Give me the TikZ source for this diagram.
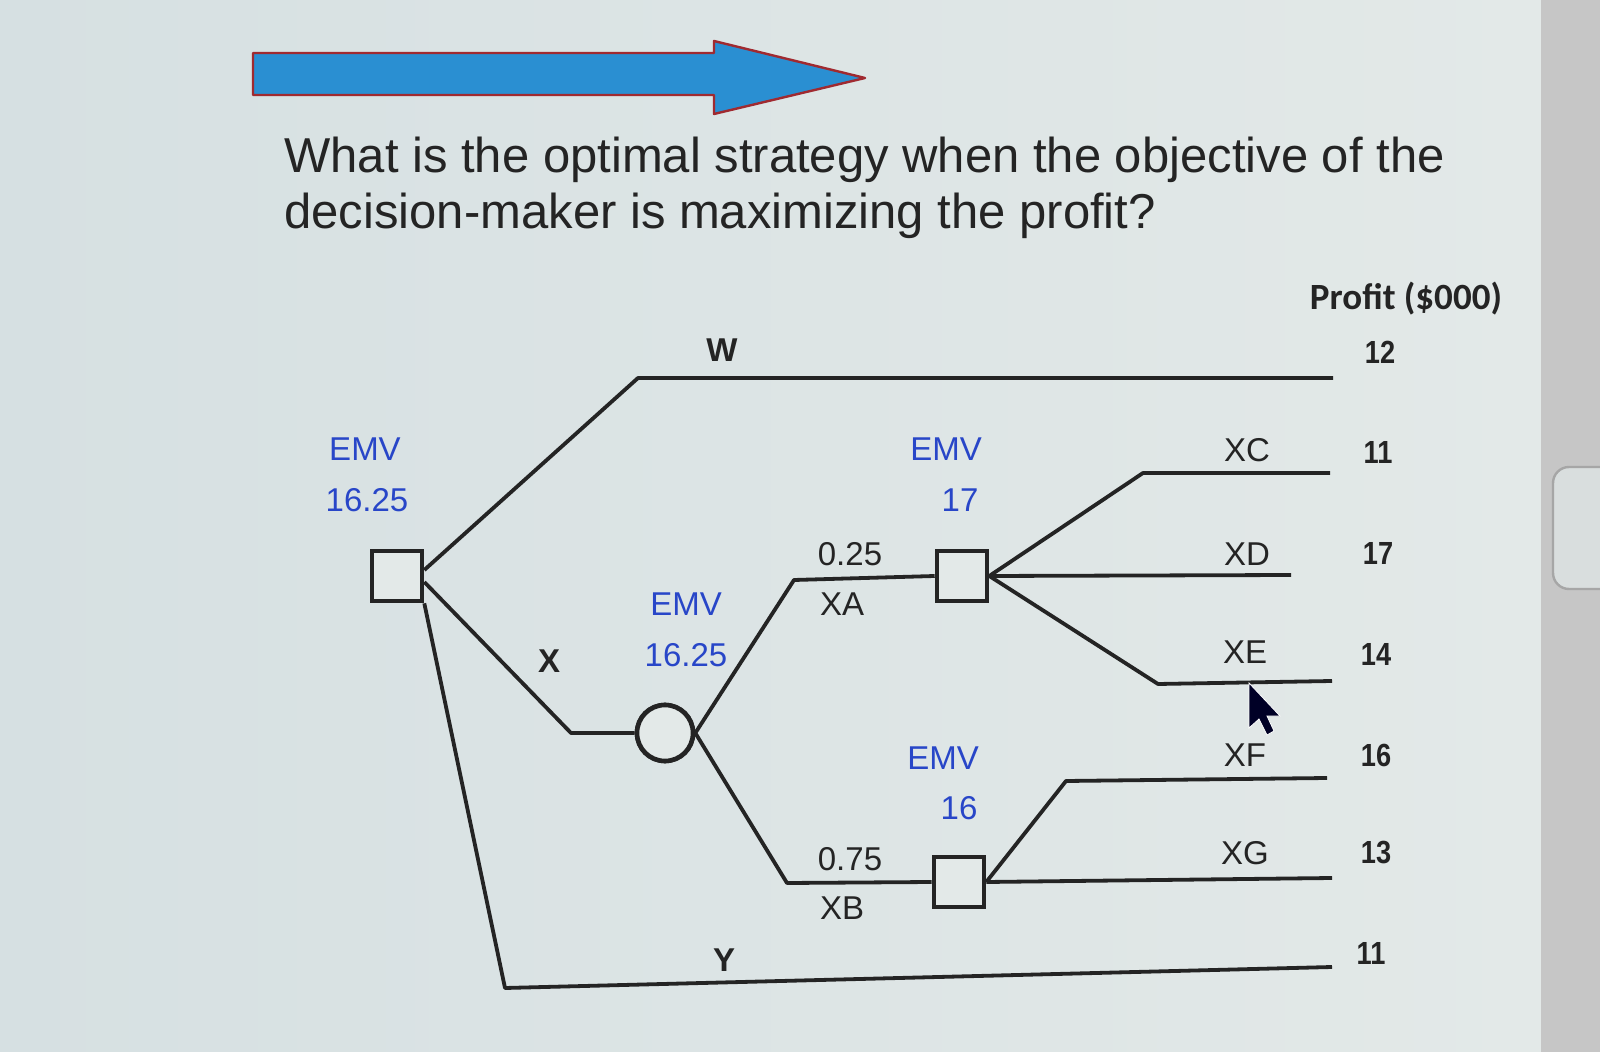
\documentclass[tikz,border=0pt]{standalone}
\usepackage{fontspec}
\setmainfont{Liberation Sans}
\newfontfamily\calfont{Carlito}
\definecolor{bg}{HTML}{E3E9E8}
\definecolor{bgl}{HTML}{D6E0E2}
\definecolor{lin}{HTML}{242424}
\definecolor{emvblue}{HTML}{2846C8}
\definecolor{arrblue}{HTML}{2A8FD2}
\definecolor{arrred}{HTML}{A02A30}
\tikzset{
  conn/.style={draw=lin, line width=1.9pt, line join=round},
  dsq/.style={draw=lin, line width=2.3pt, minimum size=25pt, inner sep=0pt, fill=bg},
  chn/.style={circle, draw=lin, line width=2.3pt, minimum size=28pt, inner sep=0pt, fill=bg},
  lbl/.style={font=\fontsize{16.5}{18}\selectfont, text=lin, inner sep=0pt},
  blbl/.style={font=\bfseries\fontsize{16.5}{18}\selectfont, text=lin, inner sep=0pt},
  emv/.style={font=\fontsize{16.5}{18}\selectfont, text=emvblue, inner sep=0pt},
  val/.style={font=\bfseries\fontsize{16}{18}\selectfont, text=lin, inner sep=0pt, xscale=0.85},
  ttl/.style={font=\fontsize{24.5}{28}\selectfont, text=lin, inner sep=0pt, anchor=base west}
}
\begin{document}
\begin{tikzpicture}[x=0.5pt, y=-0.5pt]
\useasboundingbox (0,0) rectangle (1600,1052);
\clip (0,0) rectangle (1600,1052);
\shade[left color=bgl, right color=bg] (0,0) rectangle (1541,1052);
\fill[gray!45] (1541,0) rectangle (1600,1052);
\draw[gray!70, line width=1.2pt, rounded corners=8pt, fill=bg!90!gray] (1553,467) rectangle (1640,589);

% title arrow
\draw[draw=arrred, fill=arrblue, line width=1.2pt, line join=round]
  (253,53) -- (714,53) -- (714,41) -- (865,78) -- (714,114) -- (714,95) -- (253,95) -- cycle;

% title text
\node[ttl] (t1) at (284,173) {What is the optimal strategy when the objective of the};
\node[ttl] (t2) at (284,229) {decision-maker is maximizing the profit?};

% nodes
\node[dsq] (root) at (397,576) {};
\node[chn] (chance) at (665,733) {};
\node[dsq] (dA) at (962,576) {};
\node[dsq] (dB) at (959,882) {};

\coordinate (wK) at (638,378);
\coordinate (wE) at (1333,378);
\coordinate (xK) at (571,733);
\coordinate (yK) at (505,988);
\coordinate (yE) at (1332,967);
\coordinate (aK) at (794,580);
\coordinate (bK) at (787,883);
\coordinate (cK) at (1143,473);
\coordinate (cE) at (1330,473);
\coordinate (dE) at (1291,575);
\coordinate (eK) at (1158,684);
\coordinate (eE) at (1332,681);
\coordinate (fK) at (1066,781);
\coordinate (fE) at (1327,778);
\coordinate (gE) at (1332,878);

% connectors
\draw[conn] ([yshift=3pt]root.east) -- (wK) -- (wE);
\draw[conn] ([yshift=-3pt]root.east) -- (xK) -- (chance.west);
\draw[conn] (root.south east) -- (yK) -- (yE);
\draw[conn] (chance.east) -- (aK) -- (dA.west);
\draw[conn] (chance.east) -- (bK) -- (dB.west);
\draw[conn] (dA.east) -- (cK) -- (cE);
\draw[conn] (dA.east) -- (dE);
\draw[conn] (dA.east) -- (eK) -- (eE);
\draw[conn] (dB.east) -- (fK) -- (fE);
\draw[conn] (dB.east) -- (gE);

% redraw node outlines above lines
\node[dsq] at (root) {};
\node[chn] at (chance) {};
\node[dsq] at (dA) {};
\node[dsq] at (dB) {};

% labels
\node[emv] (e1a) at (365,449) {EMV};
\node[emv] (e1b) at (367,500) {16.25};
\node[emv] (e2a) at (686,604) {EMV};
\node[emv] (e2b) at (686,655) {16.25};
\node[emv] (e3a) at (946,449) {EMV};
\node[emv] (e3b) at (960,500) {17};
\node[emv] (e4a) at (943,758) {EMV};
\node[emv] (e4b) at (959,808) {16};

\node[blbl] (lw) at (722,350) {W};
\node[blbl] (lx) at (549,661) {X};
\node[blbl] (ly) at (724,960) {Y};
\node[lbl] (p1) at (850,554) {0.25};
\node[lbl] (la) at (842,604) {XA};
\node[lbl] (p2) at (850,859) {0.75};
\node[lbl] (lb) at (842,908) {XB};
\node[lbl] (lc) at (1247,450) {XC};
\node[lbl] (ld) at (1247,554) {XD};
\node[lbl] (le) at (1245,652) {XE};
\node[lbl] (lf) at (1245,755) {XF};
\node[lbl] (lg) at (1245,853) {XG};

\node[font=\calfont\bfseries\fontsize{18.5}{21}\selectfont, text=lin, inner sep=0pt] (prof) at (1406,299) {Profit (\$000)};
\node[val] (v1) at (1380,352) {12};
\node[val] (v2) at (1378,452) {11};
\node[val] (v3) at (1378,553) {17};
\node[val] (v4) at (1376,654) {14};
\node[val] (v5) at (1376,755) {16};
\node[val] (v6) at (1376,853) {13};
\node[val] (v7) at (1371,953) {11};

% mouse cursor
\fill[black!85!blue, draw=white, line width=0.4pt] (1249,683) -- (1249,728) -- (1259,719) -- (1267,735) -- (1274,731) -- (1267,716) -- (1280,716) -- cycle;
\end{tikzpicture}
\end{document}
